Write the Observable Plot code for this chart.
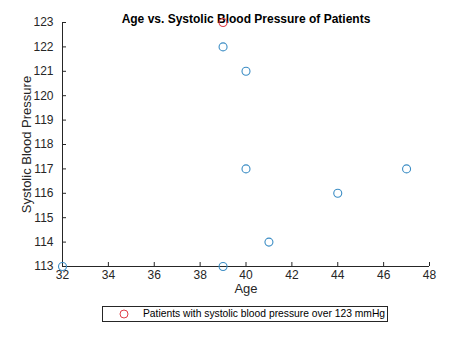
<!DOCTYPE html>
<html>
<head>
<meta charset="utf-8">
<script src="https://cdn.jsdelivr.net/npm/d3@7"></script>
<script src="https://cdn.jsdelivr.net/npm/@observablehq/plot@0.6"></script>
<style>
  html, body { margin: 0; padding: 0; background: #fff; }
  #wrap { position: relative; width: 474px; height: 355px; font-family: "Liberation Sans", Arial, sans-serif; }
  #legend { position: absolute; left: 102px; top: 306px; width: 286px; height: 16px; border: 1px solid #262626; box-sizing: border-box; background: #fff; font-size: 10.3px; color: #000; }
  #legend svg { position: absolute; left: 15px; top: 2px; }
  #legend span { position: absolute; left: 40px; top: 1px; line-height: 12px; white-space: nowrap; }
</style>
</head>
<body>
<div id="wrap">
  <div id="chart"></div>
  <div id="legend"><svg width="12" height="10"><circle cx="6" cy="5" r="4" fill="none" stroke="#e0404a" stroke-width="1"></circle></svg><span>Patients with systolic blood pressure over 123 mmHg</span></div>
</div>
<script>
const ages = [32, 39, 39, 40, 40, 41, 44, 47];
const pressures = [113, 113, 122, 121, 117, 114, 116, 117];
const highAges = [39];
const highPressures = [123];
const xTicks = [32, 34, 36, 38, 40, 42, 44, 46, 48];
const yTicks = [113, 114, 115, 116, 117, 118, 119, 120, 121, 122, 123];
const title = "Age vs. Systolic Blood Pressure of Patients";
const xLabel = "Age";
const yLabel = "Systolic Blood Pressure";

const pts = ages.map((a, i) => ({age: a, bp: pressures[i]}));
const high = highAges.map((a, i) => ({age: a, bp: highPressures[i]}));
const axisColor = "#262626";

const chart = Plot.plot({
  width: 474,
  height: 300,
  marginLeft: 62,
  marginRight: 45,
  marginTop: 22,
  marginBottom: 34,
  style: {fontFamily: "'Liberation Sans', Arial, sans-serif", fontSize: "12px", color: axisColor, background: "#fff", overflow: "visible"},
  x: {domain: [32, 48]},
  y: {domain: [113, 123]},
  marks: [
    Plot.ruleY([113], {stroke: axisColor, strokeWidth: 1}),
    Plot.ruleX([32], {stroke: axisColor, strokeWidth: 1}),
    Plot.axisX(xTicks, {anchor: "bottom", tickSize: -4, tickPadding: 8, label: null, fontSize: 12, stroke: axisColor}),
    Plot.axisY(yTicks, {anchor: "left", tickSize: -4, tickPadding: 13, label: null, fontSize: 12, stroke: axisColor, tickFormat: d => String(d)}),
    Plot.text([xLabel], {frameAnchor: "bottom", dy: 26, fontSize: 13, fill: axisColor}),
    Plot.text([yLabel], {frameAnchor: "middle", dx: -219, rotate: -90, textAnchor: "middle", lineAnchor: "middle", fontSize: 13, fill: axisColor}),
    Plot.text([title], {frameAnchor: "top", dy: -8, fontSize: 12, fontWeight: "bold", fill: "#000"}),
    Plot.dot(pts, {x: "age", y: "bp", r: 4, stroke: "#3a8cc4", strokeWidth: 1.1, fill: "none"}),
    Plot.dot(high, {x: "age", y: "bp", r: 4, stroke: "#e0404a", strokeWidth: 1.1, fill: "none"})
  ]
});
document.getElementById("chart").appendChild(chart);
</script>
</body>
</html>
